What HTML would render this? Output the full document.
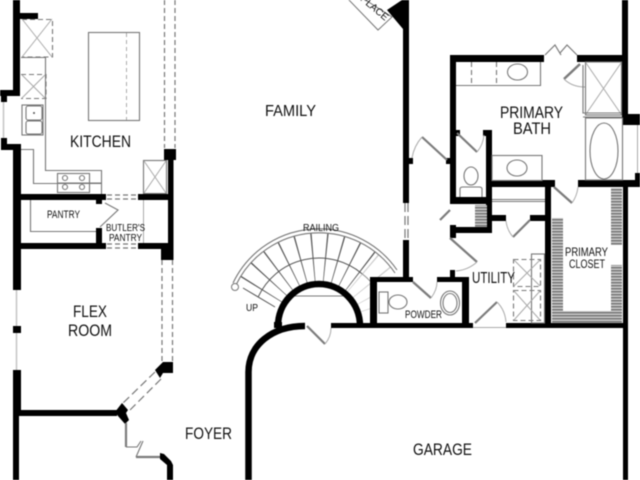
<!DOCTYPE html>
<html><head><meta charset="utf-8"><style>
html,body{margin:0;padding:0;background:#fff}
svg{display:block;filter:blur(.4px)}
text{font-family:"Liberation Sans",sans-serif;fill:#111}
.g{fill:none;stroke:#777;stroke-width:1.1}
.l{fill:none;stroke:#aaa;stroke-width:1}
.d{fill:none;stroke:#777;stroke-width:1.1;stroke-dasharray:5 3}
.door{fill:none;stroke:#7c7c7c;stroke-width:2.2}
</style></head><body>
<svg width="640" height="480" viewBox="0 0 640 480" xmlns="http://www.w3.org/2000/svg">
<defs><pattern id="hatch" width="4" height="3" patternUnits="userSpaceOnUse"><rect width="4" height="3" fill="#c8c8c8"/><rect width="4" height="1.5" fill="#777"/></pattern></defs>
<rect width="640" height="480" fill="#fff"/>

<!-- kitchen fixtures -->
<rect class="g" x="88.5" y="32.5" width="51" height="88"/>
<path class="l" d="M126.5 33V120" stroke-dasharray="4 3"/>
<path class="d" d="M22 19.5H52.5V57H22"/>
<path class="l" d="M22 19L52 57M52 19L22 57"/>
<path class="g" d="M21 57.5H45.5V170.5H101.5V194M21 149.5H33.5V183.5H101"/>
<path class="d" d="M21 74.5H46V98.5H21"/>
<path class="l" d="M22 75L45 98M45 75L22 98"/>
<rect class="g" x="22" y="105" width="21" height="30"/>
<rect class="g" x="26" y="106" width="16" height="14" rx="2"/>
<rect class="g" x="26" y="121" width="16" height="13" rx="2"/>
<circle cx="34" cy="113" r="1" fill="#555"/>
<rect class="g" x="57.5" y="173.5" width="32" height="19"/>
<circle class="g" cx="65" cy="178" r="2.5"/><circle class="g" cx="82" cy="178" r="2.5"/><circle class="g" cx="65" cy="187" r="2.5"/><circle class="g" cx="82" cy="187" r="2.5"/>
<path class="g" d="M57 183H101"/>
<rect class="g" x="143.5" y="160.5" width="23" height="33"/>
<path class="l" d="M144 161L166 193M166 161L144 193"/>
<path class="l" d="M143.5 194V243"/>
<path class="g" d="M30.5 200V231.5H96"/>
<path class="door" style="stroke-width:1.2" d="M100 227L118 210L105 203"/>
<!-- openings -->
<path class="d" style="stroke-width:1.2" d="M164.5 0V148M175 0V148M162 260V362M172.5 260V362M107 195H138M107 199H138M107 244H138M107 248H138"/>
<path class="d" style="stroke-width:1.2;stroke-dasharray:8 4" d="M155 372L122 404M161 379L130 410"/>
<path d="M3.5 102V138M16.5 290V326M16.5 333V370" fill="none" stroke="#c4c4c4" stroke-width="1.5"/>
<path class="d" style="stroke-width:1.2;stroke-dasharray:9 4" d="M405 203V240M408 203V240"/>

<!-- stair -->
<path d="M258.3 296.7A67 67 0 0 1 362 273.7" fill="none" stroke="#555" stroke-width="50" stroke-dasharray="1 11.4" stroke-dashoffset="4.9"/>
<path d="M362 273.7A67 67 0 0 1 383.7 307.7" fill="none" stroke="#ccc" stroke-width="50" stroke-dasharray="1 11.4"/>
<path d="M258.3 296.7A67 67 0 0 1 362 273.7" fill="none" stroke="#555" stroke-width="1"/>
<path d="M362 273.700A67 67 0 0 1 370 281" fill="none" stroke="#999" stroke-width="1"/>
<path d="M236 285A92 92 0 0 1 395 273" fill="none" stroke="#777" stroke-width="1.100"/>
<path d="M233 283A95 95 0 0 1 397 270" fill="none" stroke="#777" stroke-width="1.100"/>
<circle cx="235" cy="287" r="3.500" fill="#fff" stroke="#777"/>
<path d="M275 307L243 288" stroke="#555" fill="none"/>
<rect x="377" y="282" width="85" height="41" fill="#fff"/>
<ellipse cx="319" cy="326" rx="38" ry="41" fill="#fff"/>
<path class="g" d="M292 296H347"/>
<path d="M278 326A41 42 0 0 1 360 326" fill="none" stroke="#000" stroke-width="6.500"/>

<!-- black walls -->
<g fill="#000">
<rect x="13" y="0" width="7" height="96"/><rect x="20" y="13" width="18" height="6"/>
<rect x="0" y="90" width="20" height="6"/><rect x="1" y="90" width="6" height="12"/>
<rect x="1" y="138" width="6" height="12"/><rect x="1" y="144" width="20" height="6"/>
<rect x="13" y="145" width="8" height="145"/>
<rect x="13" y="326" width="8" height="7"/><rect x="13" y="370" width="8" height="40"/><rect x="13" y="410" width="6" height="70"/>
<rect x="19" y="410" width="98" height="6"/>
<polygon points="115,412 122,403 128,410 126,413 129,420 125,424 118,416"/>
<polygon points="155,370 163,362 173,362 173,373 163,373 160,378"/>
<rect x="164" y="149" width="12" height="11"/><rect x="168" y="160" width="5.500" height="100"/><rect x="161" y="245" width="12" height="15"/>
<rect x="20" y="194" width="86" height="6"/><rect x="96" y="198" width="6" height="6"/><rect x="138" y="194" width="30" height="6"/>
<rect x="20" y="243" width="86" height="6"/><rect x="96" y="228" width="6" height="17"/><rect x="138" y="243" width="30" height="6"/>
<!-- family wall / fireplace -->
<rect x="403" y="0" width="6" height="203"/><rect x="403" y="240" width="6" height="38"/>
<polygon points="387,10 402,0 409,0 409,30 403,29"/>
<rect x="409" y="158" width="4" height="6"/><rect x="446" y="158" width="5" height="6"/>
<!-- primary -->
<rect x="450" y="55" width="94" height="7"/><rect x="577" y="55" width="50" height="7"/>
<rect x="450" y="55" width="6" height="149"/>
<rect x="622" y="0" width="6" height="120"/><rect x="622" y="114" width="18" height="11"/>
<rect x="635" y="173" width="5" height="10"/><rect x="578" y="180" width="62" height="7"/>
<rect x="483" y="130" width="9" height="6"/><rect x="486" y="130" width="6" height="103"/>
<rect x="456" y="130" width="4" height="6"/>
<rect x="486" y="180" width="69" height="7"/>
<rect x="545" y="187" width="6" height="140"/>
<rect x="623" y="187" width="5" height="293"/>
<rect x="450" y="197" width="42" height="7"/>
<rect x="450" y="225" width="6" height="13"/><rect x="450" y="227" width="42" height="6"/>
<rect x="492" y="215" width="14" height="6"/><rect x="530" y="215" width="15" height="6"/>
<!-- powder -->
<rect x="370" y="277" width="43" height="5"/><rect x="437" y="277" width="32" height="5"/><rect x="450" y="270" width="5" height="8"/>
<rect x="370" y="277" width="7" height="50"/><rect x="462" y="277" width="7" height="50"/>
<!-- garage -->
<rect x="331" y="323" width="142" height="5"/><rect x="506" y="323" width="122" height="5"/>
<rect x="274" y="322" width="8" height="6"/>
<polygon points="160,453 164,454 171,461 173,465 173,480 167,480 167,465 160,459"/>
</g>
<path d="M248.500 480V372C248.500 345 272 326 305 326" fill="none" stroke="#000" stroke-width="6.500"/>

<!-- primary fixtures -->
<path class="g" d="M456 85.500H540.500V62"/>
<path class="d" d="M471.500 62V85M496.500 62V85"/>
<ellipse class="g" cx="517.500" cy="72" rx="10" ry="8"/>
<path class="door" style="stroke-width:1.200" d="M545 55L555 45L561 55M560 53L567 45L577 55"/>
<path class="door" style="stroke-width:2.500" d="M580 64L564 79"/>
<path class="l" d="M564 79Q572 87 585 87"/>
<rect class="g" x="585.500" y="62" width="36" height="53"/>
<path class="l" d="M586 63L621 114M621 63L586 114"/>
<path class="g" d="M583 65V113H622M583 117H622"/>
<rect class="g" x="585.500" y="118" width="37" height="62"/>
<ellipse class="g" cx="604" cy="151" rx="14" ry="28"/>
<path class="l" d="M637.500 125V173"/>
<rect class="g" x="492" y="155.500" width="50" height="25"/>
<ellipse class="g" cx="517" cy="168" rx="10" ry="8"/>
<path class="door" d="M554 187L572 203"/>
<path class="l" d="M572 203Q577 196 578 187"/>
<path class="door" d="M457 133L477 152"/>
<path class="l" d="M477 152Q483 145 484 135"/>
<path class="door" d="M422 137L447 160"/>
<path class="l" d="M422 137Q414 146 412 158"/>
<ellipse class="g" cx="471" cy="176" rx="7" ry="9"/>
<path class="g" d="M460 197V189Q460 187 463 187H479Q482 187 482 189V197"/>
<rect x="475" y="205" width="12" height="22" fill="url(#hatch)"/>
<path class="door" d="M450 210L440 220"/>
<path class="door" d="M450 238L477 262"/>
<path class="l" d="M477 262Q468 270 456 271"/>
<path class="door" d="M530 220L513 237"/>
<path class="l" d="M513 237Q507 230 506 221"/>
<path class="g" d="M492 199.500H545M492 201.500H545"/>
<rect class="g" x="531.500" y="254" width="13" height="69"/>
<rect class="d" x="513.500" y="259.500" width="27" height="27"/>
<rect class="d" x="513.500" y="290.500" width="27" height="30"/>
<path class="l" d="M514 260L540 286M540 260L514 286M514 291L540 320M540 291L514 320"/>
<path class="door" d="M475 323L497 302"/>
<path class="l" d="M497 302Q505 310 506 322M473 327.500H506"/>
<path class="door" d="M413 282L431 298"/>
<path class="l" d="M431 298Q437 290 437 282"/>
<rect class="g" x="379" y="292" width="9" height="21"/>
<ellipse class="g" cx="398" cy="302" rx="9" ry="7"/>
<ellipse class="g" cx="450" cy="303" rx="9.500" ry="12"/>
<ellipse class="g" cx="450" cy="303" rx="7" ry="9.500"/>
<path class="door" d="M307 326L325 344"/>
<path class="l" d="M325 344Q331 337 331 328"/>
<path class="door" d="M126 423V447"/>
<path class="g" d="M126 447H137L141 441M136 457L143 441"/>
<path class="door" d="M136 457H160"/>

<!-- closet shelves -->
<rect x="552" y="218" width="11" height="105" fill="url(#hatch)"/>
<rect x="611" y="188" width="11" height="57" fill="url(#hatch)"/>
<rect x="611" y="265" width="11" height="58" fill="url(#hatch)"/>
<rect x="563" y="311" width="48" height="12" fill="url(#hatch)"/>

<!-- fireplace -->
<polygon points="348,-1 378,30 392,17 364,-1" fill="#fff" stroke="#777"/>
<text x="385" y="21" text-anchor="end" font-size="10" transform="rotate(40 385 21)">FIREPLACE</text>

<!-- labels -->
<text x="70" y="147" font-size="17" textLength="61" lengthAdjust="spacingAndGlyphs">KITCHEN</text>
<text x="47" y="218" font-size="11" textLength="33" lengthAdjust="spacingAndGlyphs">PANTRY</text>
<text x="106" y="231" font-size="10.500" textLength="39" lengthAdjust="spacingAndGlyphs">BUTLER'S</text>
<text x="109" y="241" font-size="10.500" textLength="33" lengthAdjust="spacingAndGlyphs">PANTRY</text>
<text x="265" y="116" font-size="16" textLength="51" lengthAdjust="spacingAndGlyphs">FAMILY</text>
<text x="500" y="118" font-size="17" textLength="63" lengthAdjust="spacingAndGlyphs">PRIMARY</text>
<text x="513" y="134" font-size="17" textLength="38" lengthAdjust="spacingAndGlyphs">BATH</text>
<text x="565" y="256" font-size="11.500" textLength="43" lengthAdjust="spacingAndGlyphs">PRIMARY</text>
<text x="569" y="268" font-size="11.500" textLength="36" lengthAdjust="spacingAndGlyphs">CLOSET</text>
<text x="472" y="283" font-size="16" textLength="43" lengthAdjust="spacingAndGlyphs">UTILITY</text>
<text x="405" y="318" font-size="11" textLength="37" lengthAdjust="spacingAndGlyphs">POWDER</text>
<text x="303" y="231" font-size="10.500" textLength="36" lengthAdjust="spacingAndGlyphs">RAILING</text>
<text x="246" y="311" font-size="10.500" textLength="12" lengthAdjust="spacingAndGlyphs">UP</text>
<text x="73" y="317" font-size="17" textLength="34" lengthAdjust="spacingAndGlyphs">FLEX</text>
<text x="68" y="336" font-size="17" textLength="44" lengthAdjust="spacingAndGlyphs">ROOM</text>
<text x="185" y="439" font-size="17" textLength="47" lengthAdjust="spacingAndGlyphs">FOYER</text>
<text x="413" y="455" font-size="16.500" textLength="59" lengthAdjust="spacingAndGlyphs">GARAGE</text>
</svg>
</body></html>
